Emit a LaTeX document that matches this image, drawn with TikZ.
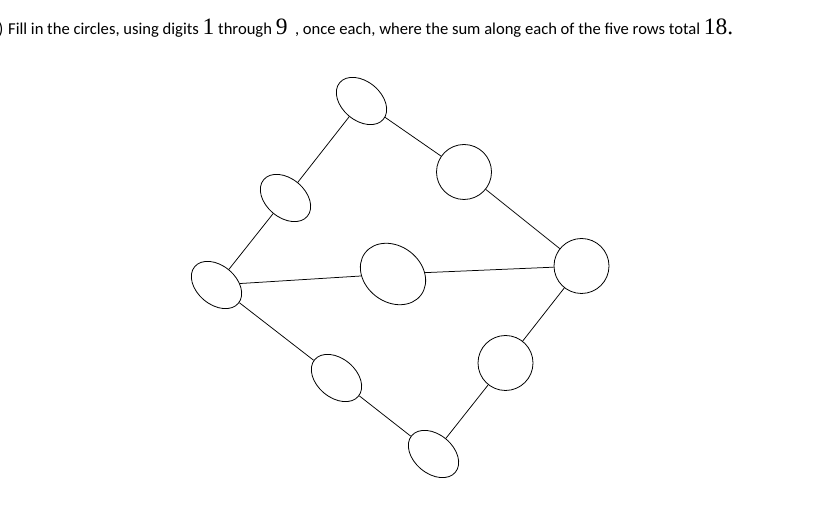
\documentclass[tikz,border=0pt]{standalone}
\usepackage{fontspec}
\setmainfont{Carlito}
\newfontfamily\digitfont{Liberation Serif}
\usetikzlibrary{shapes.geometric}
\tikzset{
  smallov/.style={draw, ellipse, line width=0.8pt, inner sep=0pt, minimum width=57pt, minimum height=39pt, rotate=-40},
  bigov/.style={draw, ellipse, line width=0.8pt, inner sep=0pt, minimum width=70pt, minimum height=56pt, rotate=-37},
  ring/.style={draw, circle, line width=0.8pt, inner sep=0pt, minimum size=55pt},
  edge/.style={line width=0.75pt},
  txt/.style={inner sep=0pt, font=\fontsize{16.6}{19}\selectfont}
}
\newcommand{\dg}[1]{{\digitfont\fontsize{23.5}{26}\selectfont #1}}
\begin{document}
\begin{tikzpicture}[x=1pt,y=1pt]
\useasboundingbox (0,0) rectangle (832,505);
\node[txt, anchor=base east] (cut) at (3.5,470) {)};
\node[txt, anchor=base west] (title) at (8,470) {Fill in the circles, using digits \dg{1} through \dg{9}\ \ , once each, where the sum along each of the five rows total \dg{18.}};
\node[smallov] (top) at (361.5,404) {};
\node[ring] (ur) at (464,333) {};
\node[smallov] (lm) at (285.5,307) {};
\node[smallov] (left) at (216.5,220) {};
\node[bigov] (mid) at (393,231) {};
\node[ring] (right) at (581.5,239) {};
\node[smallov] (ll) at (336.5,127) {};
\node[ring] (lr) at (505.5,142) {};
\node[smallov] (bot) at (433.5,51) {};
\draw[edge] (top) -- (lm);
\draw[edge] (lm) -- (left);
\draw[edge] (top) -- (ur);
\draw[edge] (ur) -- (right);
\draw[edge] (left) -- (mid);
\draw[edge] (mid) -- (right);
\draw[edge] (left) -- (ll);
\draw[edge] (ll) -- (bot);
\draw[edge] (bot) -- (lr);
\draw[edge] (lr) -- (right);
\end{tikzpicture}
\end{document}
